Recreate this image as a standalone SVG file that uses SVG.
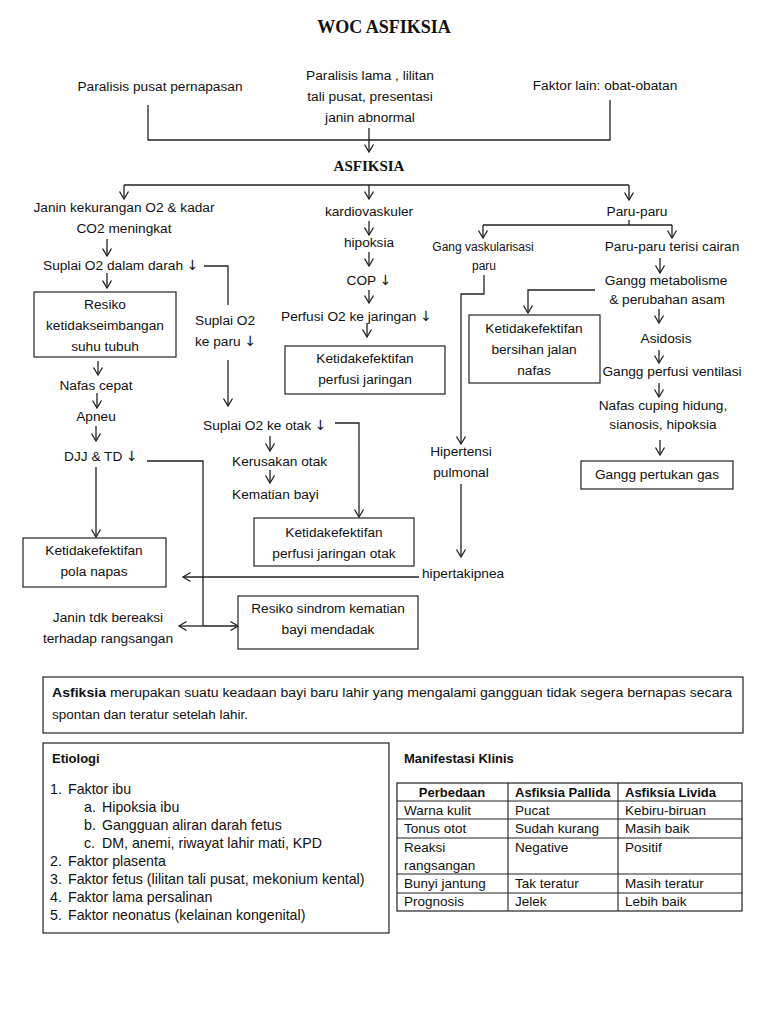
<svg xmlns="http://www.w3.org/2000/svg" width="768" height="1024" viewBox="0 0 768 1024">
<style>
text{font-family:"Liberation Sans",Arial,sans-serif;font-size:13.7px;fill:#111}
.c{text-anchor:middle}
.t{font-family:"Liberation Serif","Times New Roman",serif;font-weight:bold}
.b{font-weight:bold}
.s{font-size:12px}
.a{font-family:"DejaVu Sans",sans-serif;font-size:14px}
.box{fill:#fff;stroke:#222;stroke-width:1.2}
.ln{fill:none;stroke:#222;stroke-width:1.3}
.ar{fill:none;stroke:#222;stroke-width:1.3;marker-end:url(#ah)}
.tb{font-size:13.5px}
.th{font-size:13px}
.et{font-size:14.2px}
</style>
<defs>
<marker id="ah" viewBox="-10 -7 12 14" refX="0" refY="0" markerWidth="12" markerHeight="14" markerUnits="userSpaceOnUse" orient="auto">
<path d="M-7.5,-4.5 L0,0 L-7.5,4.5" fill="none" stroke="#222" stroke-width="1.3"/>
</marker>
</defs>
<rect width="768" height="1024" fill="#fff"/>

<text class="t c" x="384" y="33" style="font-size:18px">WOC ASFIKSIA</text>

<g id="connectors">
<path class="ln" d="M148,105 V140 H610 V100"/>
<path class="ar" d="M369,128 V152"/>
<path class="ln" d="M124,185 H629"/>
<path class="ar" d="M124,185 V199"/>
<path class="ar" d="M369,185 V199"/>
<path class="ar" d="M629,185 V200"/>
<path class="ar" d="M107,239 V256"/>
<path class="ln" d="M204,266 H228 V305"/>
<path class="ar" d="M107,273 V288"/>
<path class="ar" d="M228,360 V406"/>
<path class="ar" d="M98,361 V375"/>
<path class="ar" d="M97,393 V408"/>
<path class="ar" d="M96,426 V441"/>
<path class="ln" d="M147,461 H203 V626"/>
<path class="ar" d="M203,626 H179"/>
<path class="ar" d="M203,626 H238"/>
<path class="ar" d="M96,467 V537"/>
<path class="ar" d="M419,577 H183"/>
<path class="ar" d="M369,221 V235"/>
<path class="ar" d="M369,252 V266"/>
<path class="ar" d="M369,290 V303"/>
<path class="ar" d="M367,323 V337"/>
<path class="ln" d="M335,423 H359 V450"/>
<path class="ar" d="M359,450 V517"/>
<path class="ar" d="M270,436 V451"/>
<path class="ar" d="M270,470 V483"/>
<path class="ln" d="M629,220 V225 M483,225 H672"/>
<path class="ar" d="M483,225 V238"/>
<path class="ar" d="M672,225 V238"/>
<path class="ar" d="M660,258 V273"/>
<path class="ln" d="M595,290 H528 V300"/>
<path class="ar" d="M528,300 V313"/>
<path class="ar" d="M659,309 V323"/>
<path class="ar" d="M659,350 V363"/>
<path class="ar" d="M659,383 V397"/>
<path class="ar" d="M660,440 V455"/>
<path class="ln" d="M484,275 V294 H461 V420"/>
<path class="ar" d="M461,420 V444"/>
<path class="ar" d="M461,484 V557"/>
</g>

<g id="n-paralisis-pusat"><text class="c" x="160" y="91">Paralisis pusat pernapasan</text></g>
<g id="n-paralisis-lama">
<text class="c" x="370" y="80">Paralisis lama , lilitan</text>
<text class="c" x="370" y="101">tali pusat, presentasi</text>
<text class="c" x="370" y="122">janin abnormal</text>
</g>
<g id="n-faktor-lain"><text class="c" x="605" y="90">Faktor lain: obat-obatan</text></g>
<g id="n-asfiksia"><text class="t c" x="369" y="171" style="font-size:15px">ASFIKSIA</text></g>

<g id="n-janin"><text class="c" x="124" y="212">Janin kekurangan O2 &amp; kadar</text><text class="c" x="124" y="233">CO2 meningkat</text></g>
<g id="n-suplai-darah"><text x="43" y="270">Suplai O2 dalam darah <tspan class="a">↓</tspan></text></g>
<g id="n-resiko-suhu">
<rect class="box" x="34" y="292" width="142" height="65"/>
<text class="c" x="105" y="309">Resiko</text>
<text class="c" x="105" y="330">ketidakseimbangan</text>
<text class="c" x="105" y="351">suhu tubuh</text>
</g>
<g id="n-suplai-paru"><text x="195" y="325">Suplai O2</text><text x="195" y="346">ke paru  <tspan class="a">↓</tspan></text></g>
<g id="n-nafas-cepat"><text class="c" x="96" y="390">Nafas cepat</text></g>
<g id="n-apneu"><text class="c" x="96" y="421">Apneu</text></g>
<g id="n-djj"><text x="64" y="461">DJJ &amp; TD <tspan class="a">↓</tspan></text></g>
<g id="n-pola-napas">
<rect class="box" x="23" y="538" width="143" height="49"/>
<text class="c" x="94" y="555">Ketidakefektifan</text>
<text class="c" x="94" y="576">pola napas</text>
</g>
<g id="n-hipertakipnea"><text x="422" y="578">hipertakipnea</text></g>
<g id="n-janin-tdk"><text class="c" x="108" y="622">Janin tdk bereaksi</text><text class="c" x="108" y="643">terhadap rangsangan</text></g>
<g id="n-resiko-sindrom">
<rect class="box" x="238" y="596" width="180" height="53"/>
<text class="c" x="328" y="613">Resiko sindrom kematian</text>
<text class="c" x="328" y="634">bayi mendadak</text>
</g>

<g id="n-kardio"><text class="c" x="369" y="216">kardiovaskuler</text></g>
<g id="n-hipoksia"><text class="c" x="369" y="247">hipoksia</text></g>
<g id="n-cop"><text class="c" x="369" y="285">COP <tspan class="a">↓</tspan></text></g>
<g id="n-perfusi-o2"><text x="281" y="321">Perfusi O2 ke jaringan <tspan class="a">↓</tspan></text></g>
<g id="n-perfusi-jaringan">
<rect class="box" x="285" y="346" width="160" height="48"/>
<text class="c" x="365" y="363">Ketidakefektifan</text>
<text class="c" x="365" y="384">perfusi jaringan</text>
</g>
<g id="n-suplai-otak"><text x="203" y="430">Suplai O2 ke otak <tspan class="a">↓</tspan></text></g>
<g id="n-kerusakan"><text x="232" y="466">Kerusakan otak</text></g>
<g id="n-kematian"><text x="232" y="499">Kematian bayi</text></g>
<g id="n-perfusi-otak">
<rect class="box" x="254" y="518" width="160" height="48"/>
<text class="c" x="334" y="537">Ketidakefektifan</text>
<text class="c" x="334" y="558">perfusi jaringan otak</text>
</g>

<g id="n-paru"><text class="c" x="637" y="216">Paru-paru</text></g>
<g id="n-gang-vask"><text class="c s" x="483" y="251">Gang vaskularisasi</text><text class="c s" x="484" y="270">paru</text></g>
<g id="n-terisi"><text class="c" x="672" y="251">Paru-paru terisi cairan</text></g>
<g id="n-metabolisme"><text class="c" x="666" y="285">Gangg metabolisme</text><text class="c" x="667" y="304">&amp; perubahan asam</text></g>
<g id="n-bersihan">
<rect class="box" x="469" y="315" width="131" height="68"/>
<text class="c" x="534" y="333">Ketidakefektifan</text>
<text class="c" x="534" y="354">bersihan jalan</text>
<text class="c" x="534" y="375">nafas</text>
</g>
<g id="n-asidosis"><text class="c" x="666" y="343">Asidosis</text></g>
<g id="n-ventilasi"><text class="c" x="672" y="376">Gangg perfusi ventilasi</text></g>
<g id="n-cuping"><text class="c" x="663" y="410">Nafas cuping hidung,</text><text class="c" x="663" y="429">sianosis, hipoksia</text></g>
<g id="n-pertukaran">
<rect class="box" x="581" y="461" width="152" height="28"/>
<text class="c" x="657" y="479">Gangg pertukan gas</text>
</g>
<g id="n-hipertensi"><text class="c" x="461" y="456">Hipertensi</text><text class="c" x="461" y="477">pulmonal</text></g>

<g id="definition">
<rect class="box" x="43" y="677" width="700" height="56"/>
<text x="52" y="697" textLength="680" lengthAdjust="spacingAndGlyphs"><tspan class="b">Asfiksia</tspan> merupakan suatu keadaan bayi baru lahir yang mengalami gangguan tidak segera bernapas secara</text>
<text x="52" y="719" textLength="196" lengthAdjust="spacingAndGlyphs">spontan dan teratur setelah lahir.</text>
</g>

<g id="etiologi">
<rect class="box" x="43" y="743" width="346" height="190"/>
<text class="b th" x="52" y="763">Etiologi</text>
<text class="et" x="50" y="794">1.</text><text class="et" x="68" y="794">Faktor ibu</text>
<text class="et" x="84" y="812">a.</text><text class="et" x="102" y="812">Hipoksia ibu</text>
<text class="et" x="84" y="830">b.</text><text class="et" x="102" y="830">Gangguan aliran darah fetus</text>
<text class="et" x="84" y="848">c.</text><text class="et" x="102" y="848">DM, anemi, riwayat lahir mati, KPD</text>
<text class="et" x="50" y="866">2.</text><text class="et" x="68" y="866">Faktor plasenta</text>
<text class="et" x="50" y="884">3.</text><text class="et" x="68" y="884">Faktor fetus (lilitan tali pusat, mekonium kental)</text>
<text class="et" x="50" y="902">4.</text><text class="et" x="68" y="902">Faktor lama persalinan</text>
<text class="et" x="50" y="920">5.</text><text class="et" x="68" y="920">Faktor neonatus (kelainan kongenital)</text>
</g>

<g id="manifestasi">
<text class="b th" x="404" y="763">Manifestasi Klinis</text>
<rect x="397" y="783" width="345" height="128" fill="none" stroke="#222" stroke-width="1.2"/>
<path class="ln" style="stroke-width:1.1" d="M508,783 V911 M618,783 V911 M397,801 H742 M397,819 H742 M397,838 H742 M397,874 H742 M397,893 H742"/>
<text class="b th c" x="452" y="797">Perbedaan</text>
<text class="b th" x="515" y="797">Asfiksia Pallida</text>
<text class="b th" x="625" y="797">Asfiksia Livida</text>
<text class="tb" x="404" y="815">Warna kulit</text><text class="tb" x="515" y="815">Pucat</text><text class="tb" x="625" y="815">Kebiru-biruan</text>
<text class="tb" x="404" y="833">Tonus otot</text><text class="tb" x="515" y="833">Sudah kurang</text><text class="tb" x="625" y="833">Masih baik</text>
<text class="tb" x="404" y="852">Reaksi</text><text class="tb" x="404" y="870">rangsangan</text><text class="tb" x="515" y="852">Negative</text><text class="tb" x="625" y="852">Positif</text>
<text class="tb" x="404" y="888">Bunyi jantung</text><text class="tb" x="515" y="888">Tak teratur</text><text class="tb" x="625" y="888">Masih teratur</text>
<text class="tb" x="404" y="906">Prognosis</text><text class="tb" x="515" y="906">Jelek</text><text class="tb" x="625" y="906">Lebih baik</text>
</g>
</svg>
